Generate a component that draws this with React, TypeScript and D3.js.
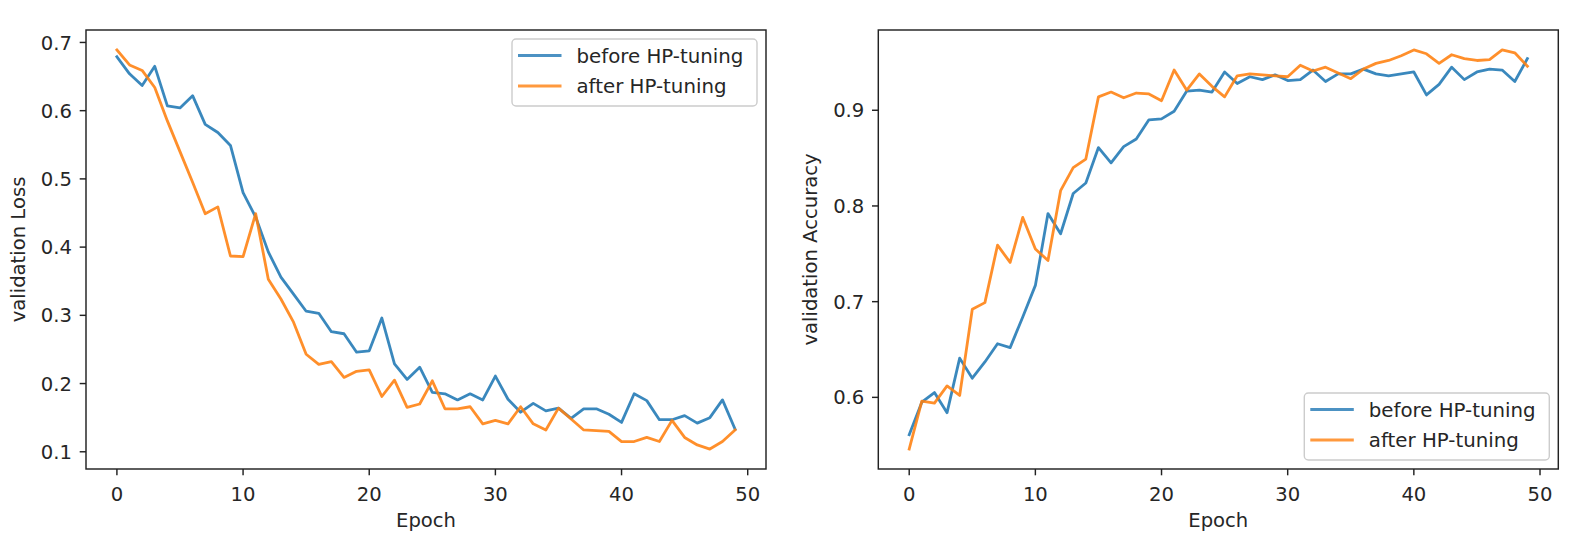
import React from 'react';
import * as d3 from 'd3';

const epochs: number[] = Array.from({ length: 50 }, (_, i) => i);

const lossBefore: number[] = [
  0.679, 0.654, 0.637, 0.665, 0.607, 0.604, 0.622, 0.580, 0.568, 0.549,
  0.480, 0.444, 0.393, 0.356, 0.331, 0.306, 0.303, 0.276, 0.273, 0.246,
  0.248, 0.296, 0.229, 0.206, 0.224, 0.187, 0.185, 0.176, 0.185, 0.176,
  0.211, 0.177, 0.158, 0.171, 0.160, 0.164, 0.149, 0.163, 0.163, 0.155,
  0.143, 0.185, 0.175, 0.147, 0.147, 0.153, 0.142, 0.150, 0.176, 0.133,
];
const lossAfter: number[] = [
  0.689, 0.667, 0.659, 0.634, 0.585, 0.540, 0.495, 0.449, 0.459, 0.387,
  0.386, 0.449, 0.353, 0.324, 0.290, 0.243, 0.228, 0.232, 0.209, 0.218,
  0.220, 0.181, 0.205, 0.165, 0.170, 0.204, 0.163, 0.163, 0.166, 0.141,
  0.146, 0.141, 0.166, 0.141, 0.132, 0.164, 0.148, 0.132, 0.131, 0.130,
  0.115, 0.115, 0.121, 0.115, 0.146, 0.121, 0.110, 0.104, 0.115, 0.132,
];
const accBefore: number[] = [
  0.561, 0.595, 0.605, 0.584, 0.641, 0.620, 0.637, 0.656, 0.652, 0.684,
  0.717, 0.792, 0.771, 0.813, 0.824, 0.861, 0.845, 0.862, 0.870, 0.890,
  0.891, 0.899, 0.920, 0.921, 0.919, 0.940, 0.928, 0.935, 0.932, 0.937,
  0.931, 0.932, 0.942, 0.930, 0.938, 0.938, 0.943, 0.938, 0.936, 0.938,
  0.940, 0.916, 0.927, 0.945, 0.932, 0.940, 0.943, 0.942, 0.930, 0.954,
];
const accAfter: number[] = [
  0.546, 0.596, 0.594, 0.612, 0.602, 0.692, 0.699, 0.759, 0.741, 0.788,
  0.755, 0.743, 0.816, 0.840, 0.849, 0.914, 0.919, 0.913, 0.918, 0.917,
  0.910, 0.942, 0.921, 0.938, 0.925, 0.914, 0.936, 0.938, 0.937, 0.936,
  0.935, 0.947, 0.941, 0.945, 0.939, 0.933, 0.943, 0.949, 0.952, 0.957,
  0.963, 0.959, 0.949, 0.958, 0.954, 0.952, 0.953, 0.963, 0.960, 0.946,
];

const xTicks: number[] = [0, 10, 20, 30, 40, 50];
const lossTicks: number[] = [0.1, 0.2, 0.3, 0.4, 0.5, 0.6, 0.7];
const accTicks: number[] = [0.6, 0.7, 0.8, 0.9];
const seriesNames: string[] = ['before HP-tuning', 'after HP-tuning'];
const colors: string[] = ['#1f77b4', '#ff7f0e'];

const FONT = 'DejaVu Sans, sans-serif';
const FS = 19.6;
const LFS = 19.8;

interface PanelProps {
  left: number;
  right: number;
  top: number;
  bottom: number;
  yLabel: string;
  yTicks: number[];
  series: number[][];
  legendPos: 'upper' | 'lower';
}

function pad(vals: number[]): [number, number] {
  const mn = d3.min(vals) as number;
  const mx = d3.max(vals) as number;
  const m = (mx - mn) * 0.05;
  return [mn - m, mx + m];
}

function Panel({ left, right, top, bottom, yLabel, yTicks, series, legendPos }: PanelProps) {
  const xDom = pad(epochs);
  const yDom = pad(series.flat());
  const x = d3.scaleLinear().domain(xDom).range([left, right]);
  const y = d3.scaleLinear().domain(yDom).range([bottom, top]);
  const line = d3
    .line<number>()
    .x((_, i) => x(epochs[i]))
    .y((d) => y(d));
  const tickLen = 6.3;
  const lw = 245;
  const lh = 67;
  const lx = right - 9 - lw;
  const ly = legendPos === 'upper' ? top + 9 : bottom - 9 - lh;
  const rows = [ly + 16.5, ly + 47];
  const cx = (left + right) / 2;
  const cy = (top + bottom) / 2;
  return (
    <g>
      <rect x={left} y={top} width={right - left} height={bottom - top} fill="#fff" />
      {series.map((s, i) => (
        <path
          key={i}
          d={line(s) || ''}
          fill="none"
          stroke={colors[i]}
          strokeWidth={2.8}
          strokeOpacity={0.88}
          strokeLinejoin="round"
          strokeLinecap="square"
        />
      ))}
      <rect
        x={left}
        y={top}
        width={right - left}
        height={bottom - top}
        fill="none"
        stroke="#222"
        strokeWidth={1.45}
      />
      {xTicks.map((t) => (
        <g key={'x' + t}>
          <line x1={x(t)} x2={x(t)} y1={bottom} y2={bottom + tickLen} stroke="#222" strokeWidth={1.45} />
          <text x={x(t)} y={501} textAnchor="middle" fontFamily={FONT} fontSize={FS} fill="#262626">
            {t}
          </text>
        </g>
      ))}
      {yTicks.map((t) => (
        <g key={'y' + t}>
          <line x1={left - tickLen} x2={left} y1={y(t)} y2={y(t)} stroke="#222" strokeWidth={1.45} />
          <text
            x={left - 14}
            y={y(t)}
            dy="0.36em"
            textAnchor="end"
            fontFamily={FONT}
            fontSize={FS}
            fill="#262626"
          >
            {t.toFixed(1)}
          </text>
        </g>
      ))}
      <text x={cx} y={527} textAnchor="middle" fontFamily={FONT} fontSize={FS} fill="#262626">
        Epoch
      </text>
      <text
        transform={`translate(${left - 61},${cy}) rotate(-90)`}
        textAnchor="middle"
        fontFamily={FONT}
        fontSize={FS}
        fill="#262626"
      >
        {yLabel}
      </text>
      <rect
        x={lx}
        y={ly}
        width={lw}
        height={lh}
        rx={4}
        ry={4}
        fill="#fff"
        fillOpacity={0.8}
        stroke="#cccccc"
        strokeWidth={1.4}
      />
      {seriesNames.map((n, i) => (
        <g key={n}>
          <line
            x1={lx + 6}
            x2={lx + 49.5}
            y1={rows[i]}
            y2={rows[i]}
            stroke={colors[i]}
            strokeWidth={2.8}
            strokeOpacity={0.8}
          />
          <text
            x={lx + 64.5}
            y={rows[i]}
            dy="0.36em"
            fontFamily={FONT}
            fontSize={LFS}
            fill="#262626"
          >
            {n}
          </text>
        </g>
      ))}
    </g>
  );
}

export default function App() {
  return (
    <svg
      width={1586}
      height={556}
      style={{ position: 'fixed', left: 0, top: 0, background: '#fff' }}
    >
      <rect x={0} y={0} width={1586} height={556} fill="#fff" />
      <Panel
        left={86}
        right={766}
        top={30}
        bottom={469}
        yLabel="validation Loss"
        yTicks={lossTicks}
        series={[lossBefore, lossAfter]}
        legendPos="upper"
      />
      <Panel
        left={878.3}
        right={1558.3}
        top={30}
        bottom={469}
        yLabel="validation Accuracy"
        yTicks={accTicks}
        series={[accBefore, accAfter]}
        legendPos="lower"
      />
    </svg>
  );
}
